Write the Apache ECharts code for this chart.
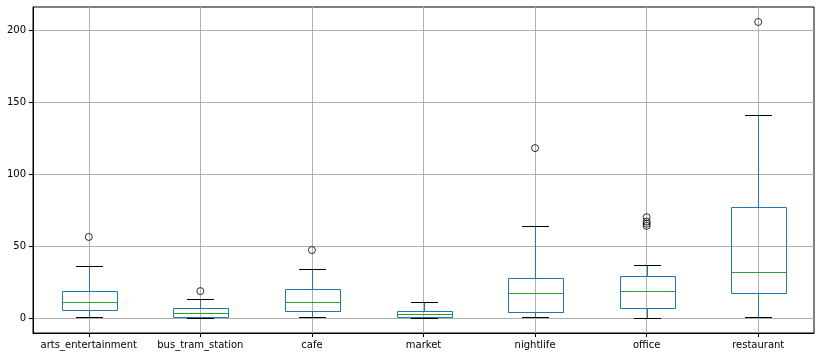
<!DOCTYPE html>
<html>
<head>
<meta charset="utf-8">
<script src="https://cdn.jsdelivr.net/npm/echarts@6/dist/echarts.min.js"></script>
<style>html,body{margin:0;padding:0;background:#fff}#c{width:821px;height:358px}</style>
</head>
<body>
<div id="c"></div>
<script>
const categories = ['arts_entertainment','bus_tram_station','cafe','market','nightlife','office','restaurant'];
const lowWhisker  = [1, 0, 1, 0, 1, 0, 1];
const q1          = [5.6, 1, 5, 1, 4.4, 6.7, 17.4];
const median      = [11.1, 3.5, 11.3, 2.8, 17.6, 18.7, 31.9];
const q3          = [18.5, 6.7, 20.1, 5, 27.8, 29.2, 77];
const highWhisker = [36, 13, 34, 11, 64, 37, 141];
const outliers    = [[56.3], [18.7], [47.2], [], [118], [64, 65.5, 67, 70], [205.6]];
const yTicks = [0, 50, 100, 150, 200];

const boxData = categories.map((c, i) => [i + 1, lowWhisker[i], q1[i], median[i], q3[i], highWhisker[i]]);
const outlierData = [];
outliers.forEach((arr, i) => arr.forEach(v => outlierData.push([i + 1, v])));

const chart = echarts.init(document.getElementById('c'));
const px = v => Math.round(v) + 0.5;
chart.setOption({
  animation: false,
  grid: {left: 33, right: 7, top: 7, bottom: 25, show: true, borderColor: '#000', borderWidth: 1},
  xAxis: {
    type: 'value', min: 0.5, max: 7.5,
    axisLine: {show: true, onZero: false, lineStyle: {color: '#000', width: 1}},
    axisTick: {show: true, length: 4, customValues: [1,2,3,4,5,6,7], lineStyle: {color: '#000'}},
    axisLabel: {customValues: [1,2,3,4,5,6,7], margin: 7, color: '#000', fontFamily: 'DejaVu Sans', fontSize: 10,
      formatter: v => categories[Math.round(v) - 1] || ''},
    splitLine: {show: true, lineStyle: {color: '#b0b0b0', width: 1}}
  },
  yAxis: {
    type: 'value', min: -10.4, max: 216,
    axisLine: {show: true, onZero: false, lineStyle: {color: '#000', width: 1}},
    axisTick: {show: true, length: 4, customValues: yTicks, lineStyle: {color: '#000'}},
    axisLabel: {customValues: yTicks, margin: 7, color: '#000', fontFamily: 'DejaVu Sans', fontSize: 10},
    splitLine: {show: true, lineStyle: {color: '#b0b0b0', width: 1}}
  },
  series: [
    {
      type: 'custom',
      data: boxData,
      encode: {x: 0, y: [1, 2, 3, 4, 5]},
      z: 3,
      renderItem: function (params, api) {
        const x = api.value(0);
        const cx = px(api.coord([x, 0])[0]);
        const bw = api.size([0.5, 0])[0];
        const cw = bw / 2;
        const yLo = px(api.coord([x, api.value(1)])[1]);
        const yQ1 = px(api.coord([x, api.value(2)])[1]);
        const yMed = px(api.coord([x, api.value(3)])[1]);
        const yQ3 = px(api.coord([x, api.value(4)])[1]);
        const yHi = px(api.coord([x, api.value(5)])[1]);
        const blue = '#1f77b4';
        const left = px(cx - bw / 2), right = px(cx + bw / 2);
        return {
          type: 'group',
          children: [
            {type: 'line', shape: {x1: cx, y1: yQ1, x2: cx, y2: yLo}, style: {stroke: blue, lineWidth: 1}},
            {type: 'line', shape: {x1: cx, y1: yQ3, x2: cx, y2: yHi}, style: {stroke: blue, lineWidth: 1}},
            {type: 'line', shape: {x1: Math.round(cx - cw / 2), y1: yLo, x2: Math.round(cx + cw / 2), y2: yLo}, style: {stroke: '#000', lineWidth: 1}},
            {type: 'line', shape: {x1: Math.round(cx - cw / 2), y1: yHi, x2: Math.round(cx + cw / 2), y2: yHi}, style: {stroke: '#000', lineWidth: 1}},
            {type: 'rect', shape: {x: left, y: yQ3, width: right - left, height: yQ1 - yQ3}, style: {fill: null, stroke: blue, lineWidth: 1}},
            {type: 'line', shape: {x1: left, y1: yMed, x2: right, y2: yMed}, style: {stroke: '#2ca02c', lineWidth: 1}}
          ]
        };
      }
    },
    {
      type: 'scatter',
      data: outlierData,
      symbol: 'circle',
      symbolSize: 7,
      z: 4,
      itemStyle: {color: 'rgba(0,0,0,0)', borderColor: '#000', borderWidth: 1}
    }
  ]
});
</script>
</body>
</html>
